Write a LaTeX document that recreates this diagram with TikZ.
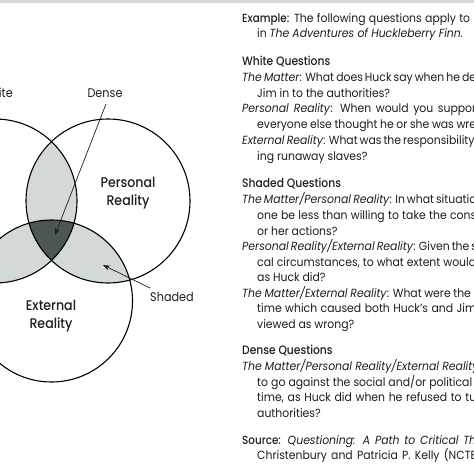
\documentclass[tikz,border=0pt]{standalone}
\usepackage{fontspec}
\setmainfont{Poppins}[FakeStretch=0.92]
\newfontfamily\headfont{Poppins}[FakeStretch=0.88,UprightFont=* Medium]
\newfontfamily\labelfont{Poppins}[FakeStretch=0.9,UprightFont=* Medium]
\newfontfamily\smallfont{Poppins}[FakeStretch=0.9]
\usetikzlibrary{arrows.meta}
\definecolor{lens}{HTML}{D3D9D9}
\definecolor{dense}{HTML}{4D5555}
\definecolor{band}{HTML}{D8D8D8}
\definecolor{ink}{HTML}{1E1E1E}
\newcommand{\jl}[2]{\makebox[#1pt][s]{#2}}
\begin{document}
\begin{tikzpicture}[x=1pt,y=-1pt,
  txt/.style={anchor=base west,inner sep=0pt,text=ink,font=\fontsize{11.8}{14}\selectfont},
  head/.style={anchor=base west,inner sep=0pt,text=ink,font=\headfont\fontsize{12.2}{15}\selectfont},
  circlab/.style={align=center,inner sep=0pt,text=ink,font=\labelfont\fontsize{14}{17.5}\selectfont},
  smalllab/.style={inner sep=0pt,text=ink,font=\smallfont\fontsize{12.5}{14}\selectfont},
  ring/.style={draw=black,line width=1.1pt},
  pointer/.style={draw=ink,line width=0.7pt,-{Stealth[length=7pt,width=5pt]}}]
\useasboundingbox (0,0) rectangle (474,474);
\clip (0,0) rectangle (474,474);
\fill[white] (0,0) rectangle (474,474);
\fill[band] (0,0) rectangle (474,3);
% circle centres
\coordinate (cM) at (-5,201);
\coordinate (cP) at (108,201);
\coordinate (cE) at (51.5,301);
% lenses
\begin{scope}
  \clip (cP) circle[radius=82];
  \fill[lens] (cM) circle[radius=82];
  \fill[lens] (cE) circle[radius=81];
\end{scope}
\begin{scope}
  \clip (cM) circle[radius=82];
  \fill[lens] (cE) circle[radius=81];
\end{scope}
\begin{scope}
  \clip (cP) circle[radius=82];
  \clip (cM) circle[radius=82];
  \fill[dense] (cE) circle[radius=81];
\end{scope}
\draw[ring] (cM) circle[radius=82];
\draw[ring] (cP) circle[radius=82];
\draw[ring] (cE) circle[radius=81];
% labels
\node[circlab] (personal) at (128,193) {Personal\\Reality};
\node[circlab] (external) at (51,316) {External\\Reality};
\node[smalllab,anchor=base east] (white) at (13,97) {White};
\node[smalllab] (denselab) at (105,93) {Dense};
\node[smalllab] (shadedlab) at (172,297) {Shaded};
\coordinate (densestart) at (106,104);
\coordinate (densetip) at (55,235);
\coordinate (shadedstart) at (150,288);
\coordinate (shadedtip) at (103,265);
\draw[pointer] (densestart) -- (densetip);
\draw[pointer] (shadedstart) -- (shadedtip);
% right column
\node[txt] (l1) at (242,22) {\jl{228}{{\headfont Example:} The following questions apply to}};
\node[txt] (l2) at (257,37) {in \textit{The Adventures of Huckleberry Finn.}};
\node[head] (h1) at (242,65) {White Questions};
\node[txt] (l3) at (242,81) {\jl{234}{\textit{The Matter}: What does Huck say when he de}};
\node[txt] (l4) at (257,97) {Jim in to the authorities?};
\node[txt] (l5) at (242,112) {\jl{234}{\textit{Personal Reality}: When would you suppor}};
\node[txt] (l6) at (257,128) {\jl{219}{everyone else thought he or she was wre}};
\node[txt] (l7) at (242,144) {\jl{231}{\textit{External Reality}: What was the responsibility}};
\node[txt] (l8) at (257,160) {ing runaway slaves?};
\node[head] (h2) at (242,187) {Shaded Questions};
\node[txt] (l9) at (242,203) {\jl{234}{\textit{The Matter/Personal Reality}: In what situatio}};
\node[txt] (l10) at (257,219) {\jl{219}{one be less than willing to take the cons}};
\node[txt] (l11) at (257,235) {or her actions?};
\node[txt] (l12) at (242,250) {\jl{234}{\textit{Personal Reality/External Reality}: Given the s}};
\node[txt] (l13) at (257,266) {\jl{219}{cal circumstances, to what extent would}};
\node[txt] (l14) at (257,281) {as Huck did?};
\node[txt] (l15) at (242,297) {\jl{234}{\textit{The Matter/External Reality}: What were the i}};
\node[txt] (l16) at (257,312) {\jl{219}{time which caused both Huck's and Jim}};
\node[txt] (l17) at (257,328) {viewed as wrong?};
\node[head] (h3) at (242,354) {Dense Questions};
\node[txt] (l18) at (242,370) {\textit{The Matter/Personal Reality/External Reality}:};
\node[txt] (l19) at (257,386) {\jl{215}{to go against the social and/or political}};
\node[txt] (l20) at (257,401) {\jl{219}{time, as Huck did when he refused to tu}};
\node[txt] (l21) at (257,417) {authorities?};
\node[txt] (l22) at (242,444) {\jl{234}{{\headfont Source:} \textit{Questioning: A Path to Critical Th}}};
\node[txt] (l23) at (257,459) {\jl{219}{Christenbury and Patricia P. Kelly (NCTE}};
\end{tikzpicture}
\end{document}
